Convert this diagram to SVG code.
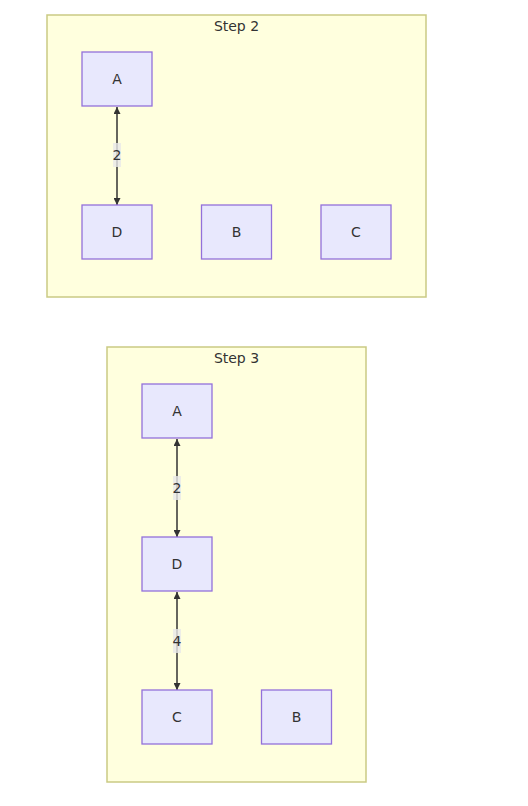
<svg xmlns="http://www.w3.org/2000/svg" width="528" height="806" viewBox="0 0 528 806">
<style>
.cluster{fill:#ffffde;stroke:#caca84;stroke-width:1.5}
.node rect{fill:#e8e8fd;stroke:#9370db;stroke-width:1.3}
text{font-family:"DejaVu Sans","Liberation Sans",sans-serif;font-size:14px;fill:#333;text-anchor:middle;dominant-baseline:central}
.edge{stroke:#333;stroke-width:1.5;fill:none}
.lbg{fill:#e8e8e8;opacity:0.8}
</style>
<defs>
<marker id="ae" viewBox="0 0 10 10" refX="10" refY="5" markerWidth="7" markerHeight="7" markerUnits="userSpaceOnUse" orient="auto"><path d="M0,0L10,5L0,10z" fill="#333"/></marker>
<marker id="as" viewBox="0 0 10 10" refX="0" refY="5" markerWidth="7" markerHeight="7" markerUnits="userSpaceOnUse" orient="auto"><path d="M10,0L0,5L10,10z" fill="#333"/></marker>
</defs>
<g id="cluster-step2">
<rect class="cluster" x="47" y="15" width="379" height="282"/>
<text x="236.5" y="26">Step 2</text>
</g>
<g id="cluster-step3">
<rect class="cluster" x="107" y="347" width="259" height="435"/>
<text x="236.5" y="358">Step 3</text>
</g>
<g id="edges">
<path class="edge" d="M117,107V205" marker-start="url(#as)" marker-end="url(#ae)"/>
<rect class="lbg" x="113" y="143" width="8" height="24"/>
<text x="117" y="155">2</text>
<path class="edge" d="M177,439V537" marker-start="url(#as)" marker-end="url(#ae)"/>
<rect class="lbg" x="173" y="476" width="8" height="24"/>
<text x="177" y="488">2</text>
<path class="edge" d="M177,592V690" marker-start="url(#as)" marker-end="url(#ae)"/>
<rect class="lbg" x="173" y="629" width="8" height="24"/>
<text x="177" y="641">4</text>
</g>
<g id="s2-A" class="node"><rect x="82" y="52" width="70" height="54"/><text x="117" y="79">A</text></g>
<g id="s2-D" class="node"><rect x="82" y="205" width="70" height="54"/><text x="117" y="232">D</text></g>
<g id="s2-B" class="node"><rect x="201.5" y="205" width="70" height="54"/><text x="236.5" y="232">B</text></g>
<g id="s2-C" class="node"><rect x="321" y="205" width="70" height="54"/><text x="356" y="232">C</text></g>
<g id="s3-A" class="node"><rect x="142" y="384" width="70" height="54"/><text x="177" y="411">A</text></g>
<g id="s3-D" class="node"><rect x="142" y="537" width="70" height="54"/><text x="177" y="564">D</text></g>
<g id="s3-C" class="node"><rect x="142" y="690" width="70" height="54"/><text x="177" y="717">C</text></g>
<g id="s3-B" class="node"><rect x="261.5" y="690" width="70" height="54"/><text x="296.5" y="717">B</text></g>
</svg>
